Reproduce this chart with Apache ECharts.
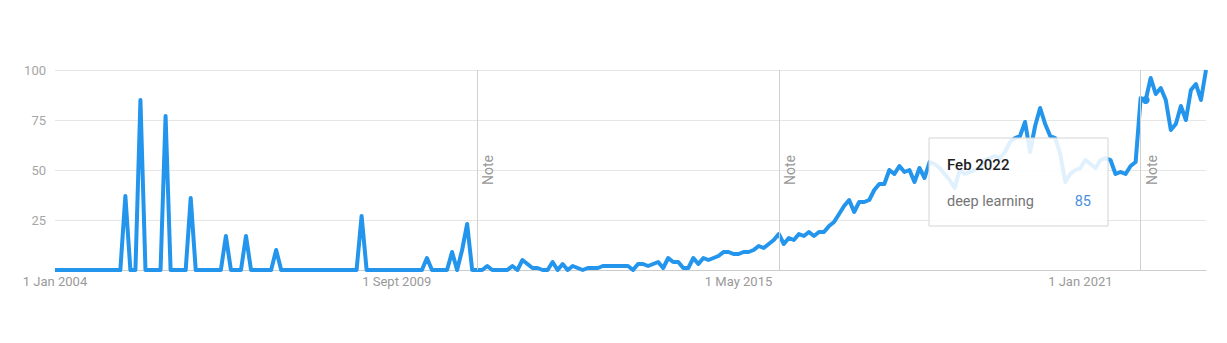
<!DOCTYPE html>
<html>
<head>
<meta charset="utf-8">
<script src="https://cdn.jsdelivr.net/npm/echarts@6/dist/echarts.min.js"></script>
<style>
  html, body { margin: 0; padding: 0; background: #fff; }
  #chart { width: 1227px; height: 343px; }
</style>
</head>
<body>
<div id="chart"></div>
<script>
// Monthly interest, Jan 2004 .. Feb 2023
const seriesName = 'deep learning';
const startYear = 2004;
const monthNames = ['Jan','Feb','Mar','Apr','May','Jun','Jul','Aug','Sept','Oct','Nov','Dec'];
const values = [
  0,0,0,0,0,0,0,0,0,0,0,0,          // 2004
  0,0,37,0,0,85,0,0,0,0,77,0,       // 2005
  0,0,0,36,0,0,0,0,0,0,17,0,        // 2006
  0,0,17,0,0,0,0,0,10,0,0,0,        // 2007
  0,0,0,0,0,0,0,0,0,0,0,0,          // 2008
  0,27,0,0,0,0,0,0,0,0,0,0,         // 2009
  0,0,6,0,0,0,0,9,0,10,23,0,        // 2010
  0,0,2,0,0,0,0,2,0,5,3,1,          // 2011
  1,0,0,4,0,3,0,2,1,0,1,1,          // 2012
  1,2,2,2,2,2,2,0,3,3,2,3,          // 2013
  4,1,6,4,4,1,1,6,3,6,5,6,          // 2014
  7,9,9,8,8,9,9,10,12,11,13,15,     // 2015
  18,13,16,15,18,17,19,17,19,19,22,24, // 2016
  28,32,35,29,34,34,35,40,43,43,50,48, // 2017
  52,49,50,44,51,46,54,53,51,48,45,41, // 2018
  50,48,49,50,51,55,56,57,56,59,64,66, // 2019
  67,74,59,72,81,73,67,66,58,44,48,50, // 2020
  51,55,53,51,55,56,55,48,49,48,52,54, // 2021
  86,85,96,88,91,85,70,73,82,75,90,93, // 2022
  85,100                               // 2023
];
const categories = values.map((_, i) => monthNames[i % 12] + ' ' + (startYear + Math.floor(i / 12)));

const tickCategories = ['Jan 2004', 'Sept 2009', 'May 2015', 'Jan 2021'];
const tickLabels = ['1 Jan 2004', '1 Sept 2009', '1 May 2015', '1 Jan 2021'];
const noteCategories = ['Jan 2011', 'Jan 2016', 'Jan 2022'];
const noteText = 'Note';
const yTicks = [0, 25, 50, 75, 100];
const tipCategory = 'Feb 2022';

const lineColor = '#2395ec';
const tipIndex = categories.indexOf(tipCategory);

const chart = echarts.init(document.getElementById('chart'), null, { renderer: 'svg' });
const font = 'Roboto, "Noto Sans", sans-serif';

chart.setOption({
  animation: false,
  textStyle: { fontFamily: font },
  grid: { left: 55, right: 21, top: 70, bottom: 73, containLabel: false },
  xAxis: {
    type: 'category',
    data: categories,
    boundaryGap: false,
    axisTick: { show: false },
    axisLine: { lineStyle: { color: '#cccccc', width: 1 } },
    splitLine: { show: false },
    axisLabel: {
      interval: (i, v) => tickCategories.indexOf(v) >= 0,
      formatter: v => tickLabels[tickCategories.indexOf(v)] || '',
      color: '#999999',
      fontSize: 13,
      margin: 5,
      fontFamily: font
    }
  },
  yAxis: {
    type: 'value',
    min: yTicks[0],
    max: yTicks[yTicks.length - 1],
    interval: 25,
    axisLine: { show: false },
    axisTick: { show: false },
    splitLine: { lineStyle: { color: '#e6e6e6', width: 1 } },
    axisLabel: {
      formatter: v => (v === 0 ? '' : String(v)),
      color: '#a6a6a6',
      fontSize: 13,
      margin: 9,
      fontFamily: font
    }
  },
  series: [{
    name: seriesName,
    type: 'line',
    z: 2,
    data: values,
    showSymbol: false,
    color: lineColor,
    lineStyle: { color: lineColor, width: 4, join: 'round' },
    markLine: {
      silent: true,
      symbol: ['none', 'none'],
      lineStyle: { color: '#d0d0d0', width: 1, type: 'solid' },
      label: {
        show: true,
        formatter: noteText,
        position: 'insideMiddleBottom',
        color: '#999999',
        fontSize: 14,
        distance: 4,
        fontFamily: font
      },
      emphasis: { disabled: true },
      data: noteCategories.map(c => [
        { coord: [c, yTicks[0]] },
        { coord: [c, yTicks[yTicks.length - 1]] }
      ])
    },
    markPoint: {
      silent: true,
      symbol: 'circle',
      symbolSize: 8,
      itemStyle: { color: lineColor },
      label: { show: false },
      data: [{ coord: [categories[tipIndex], values[tipIndex]] }]
    }
  }],
  graphic: {
    elements: [{
      type: 'rect',
      z: 100, zlevel: 0,
      x: 929, y: 138,
      shape: { x: 0, y: 0, width: 179, height: 88 },
      style: { fill: 'rgba(255,255,255,0.86)', stroke: '#d4d4d4', lineWidth: 1 }
    }, {
      type: 'text',
      z: 101,
      x: 947, y: 165,
      style: {
        text: categories[tipIndex], fill: '#202124',
        font: '500 15px Roboto', verticalAlign: 'middle', align: 'left'
      }
    }, {
      type: 'text',
      z: 101,
      x: 947, y: 201,
      style: {
        text: seriesName, fill: '#757575',
        font: '14.5px Roboto', verticalAlign: 'middle', align: 'left'
      }
    }, {
      type: 'text',
      z: 101,
      x: 1091, y: 201,
      style: {
        text: String(values[tipIndex]), fill: '#4a8fdf',
        font: '14.5px Roboto', verticalAlign: 'middle', align: 'right'
      }
    }]
  }
});
</script>
</body>
</html>
